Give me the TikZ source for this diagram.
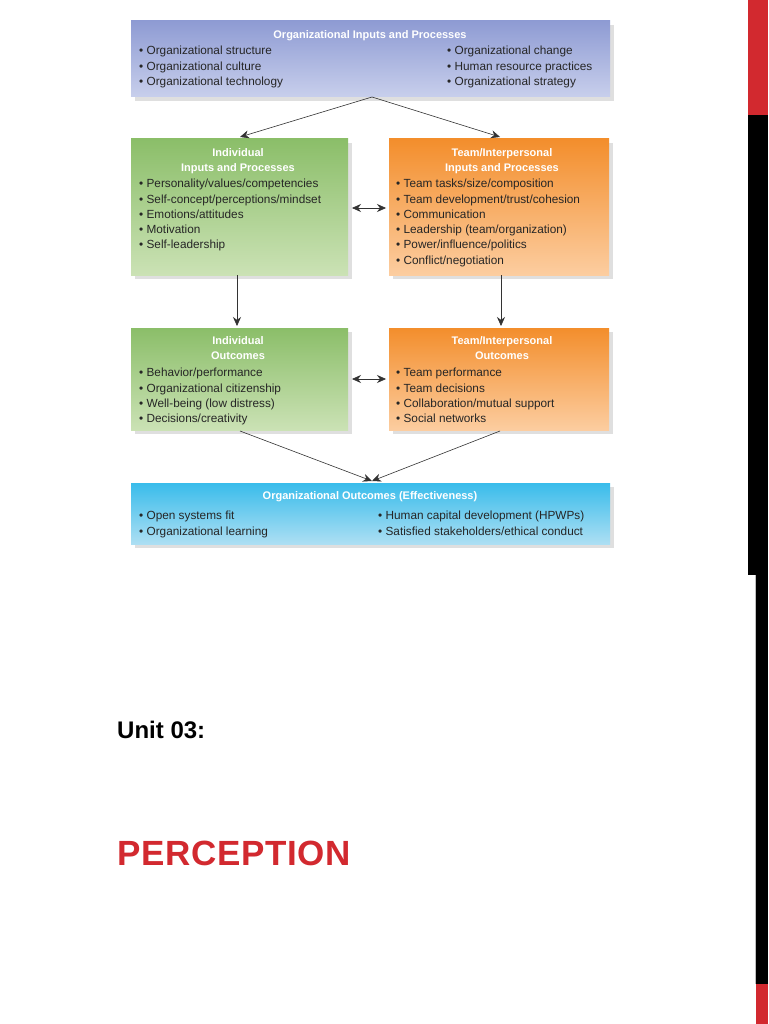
\documentclass[tikz,border=0pt]{standalone}
\usepackage{fontspec}
\setmainfont{Liberation Sans}
\usetikzlibrary{shadows,arrows.meta}
\definecolor{bluetop}{HTML}{8E9BD3}\definecolor{bluebot}{HTML}{C8CFEC}
\definecolor{greentop}{HTML}{8BBE69}\definecolor{greenbot}{HTML}{CBE2B5}
\definecolor{orangetop}{HTML}{F38E2C}\definecolor{orangebot}{HTML}{FCCDA0}
\definecolor{cyantop}{HTML}{39BCEB}\definecolor{cyanbot}{HTML}{ADDFF3}
\definecolor{pred}{HTML}{D2292F}
\begin{document}
\begin{tikzpicture}[x=1pt,y=-1pt,
  box/.style={drop shadow={opacity=0.25,shadow xshift=4pt,shadow yshift=-4pt}},
  hdr/.style={font=\bfseries\fontsize{11}{15}\selectfont,text=white,align=center,inner sep=0pt,anchor=north},
  lst/.style={font=\fontsize{11.8}{15.3}\selectfont,text=black!85,align=left,inner sep=0pt,anchor=north west},
  arr/.style={-{Stealth[length=9pt,width=8pt]},line width=0.6pt,black!80},
  darr/.style={{Stealth[length=9pt,width=8pt]}-{Stealth[length=9pt,width=8pt]},line width=0.6pt,black!80}]
\useasboundingbox (0,0) rectangle (768,1024);
\fill[white] (0,0) rectangle (768,1024);
% side bars
\fill[pred] (748,0) rectangle (768,115);
\fill[black] (748,115) rectangle (768,575);
\fill[black] (756,575) rectangle (768,984);
\fill[pred] (756,984) rectangle (768,1024);
\draw[black!25] (755.5,575) -- (755.5,984);
% boxes
\path[box,top color=bluetop,bottom color=bluebot] (131,21) rectangle (610,97);
\path[box,top color=greentop,bottom color=greenbot] (131,139) rectangle (348,275);
\path[box,top color=orangetop,bottom color=orangebot] (389,139) rectangle (609,275);
\path[box,top color=greentop,bottom color=greenbot] (131,328) rectangle (348,430);
\path[box,top color=orangetop,bottom color=orangebot] (389,328) rectangle (609,430);
\path[box,top color=cyantop,bottom color=cyanbot] (131,483) rectangle (610,544);
% top
\node[hdr] (h1) at (370,30) {Organizational Inputs and Processes};
\node[lst] (l1) at (139,46) {• Organizational structure\\• Organizational culture\\• Organizational technology};
\node[lst] (r1) at (447,46) {• Organizational change\\• Human resource practices\\• Organizational strategy};
% individual inputs
\node[hdr] (h2) at (238,148) {Individual\\Inputs and Processes};
\node[lst] (l2) at (139,179) {• Personality/values/competencies\\• Self-concept/perceptions/mindset\\• Emotions/attitudes\\• Motivation\\• Self-leadership};
\node[hdr] (h3) at (502,148) {Team/Interpersonal\\Inputs and Processes};
\node[lst] (l3) at (396,179) {• Team tasks/size/composition\\• Team development/trust/cohesion\\• Communication\\• Leadership (team/organization)\\• Power/influence/politics\\• Conflict/negotiation};
% outcomes
\node[hdr] (h4) at (238,336) {Individual\\Outcomes};
\node[lst] (l4) at (139,368) {• Behavior/performance\\• Organizational citizenship\\• Well-being (low distress)\\• Decisions/creativity};
\node[hdr] (h5) at (502,336) {Team/Interpersonal\\Outcomes};
\node[lst] (l5) at (396,368) {• Team performance\\• Team decisions\\• Collaboration/mutual support\\• Social networks};
% bottom
\node[hdr] (h6) at (370,491) {Organizational Outcomes (Effectiveness)};
\node[lst] (l6) at (139,511) {• Open systems fit\\• Organizational learning};
\node[lst] (r6) at (378,511) {• Human capital development (HPWPs)\\• Satisfied stakeholders/ethical conduct};
% connectors
\coordinate (tA) at (372,97);
\coordinate (iA) at (240,137); \coordinate (tmA) at (500,137);
\draw[arr] (tA) -- (iA); \draw[arr] (tA) -- (tmA);
\coordinate (iB) at (237,275); \coordinate (iC) at (237,326);
\coordinate (tB) at (501,275); \coordinate (tC) at (501,326);
\draw[arr] (iB) -- (iC); \draw[arr] (tB) -- (tC);
\coordinate (d1a) at (352,208); \coordinate (d1b) at (386,208);
\draw[darr] (d1a) -- (d1b);
\coordinate (d2a) at (352,379); \coordinate (d2b) at (386,379);
\draw[darr] (d2a) -- (d2b);
\coordinate (bL) at (240,431); \coordinate (bR) at (500,431); \coordinate (bT) at (372,481);
\draw[arr] (bL) -- (bT); \draw[arr] (bR) -- (bT);
% titles
\node[font=\bfseries\fontsize{24}{28}\selectfont,anchor=base west,inner sep=0pt] (unit) at (117,738) {Unit 03:};
\node[font=\bfseries\fontsize{35}{44}\selectfont,text=pred,anchor=base west,inner sep=0pt] (perc) at (117,865) {\addfontfeature{LetterSpace=2}PERCEPTION};
\end{tikzpicture}
\end{document}
